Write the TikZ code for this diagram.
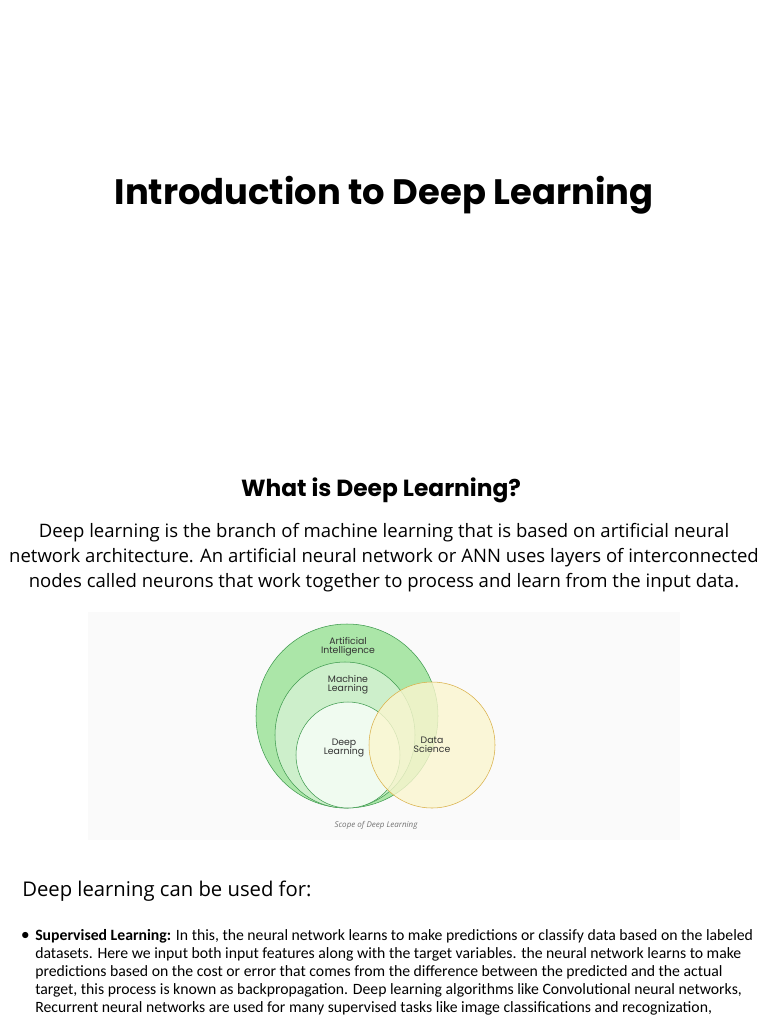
\documentclass[tikz,border=0pt]{standalone}
\usepackage{fontspec}
\setmainfont{Open Sans}
\newfontfamily\headfont{Poppins}
\newfontfamily\bulletfont{Carlito}
\usetikzlibrary{positioning}
\definecolor{aigreen}{HTML}{ABE6A8}
\definecolor{mlgreen}{HTML}{CDEFCB}
\definecolor{dlgreen}{HTML}{F0FBF0}
\definecolor{ringgreen}{HTML}{3E9A4E}
\definecolor{dsyellow}{HTML}{FBF6CF}
\definecolor{ringyellow}{HTML}{D9B048}
\definecolor{panel}{HTML}{FAFAFA}
\tikzset{
  heading/.style={font=\headfont\bfseries},
  para/.style={font=\fontsize{13.9}{17}\selectfont, inner sep=0pt},
  bul/.style={font=\bulletfont\fontsize{11.8}{13}\selectfont, anchor=west, inner sep=0pt},
  venn/.style={font=\headfont\fontsize{7}{7.5}\selectfont, text=black!80, align=center}
}
\begin{document}
\begin{tikzpicture}[x=0.75pt,y=-0.75pt]
  \useasboundingbox (0,0) rectangle (768,1024);
  \node[heading,font=\headfont\bfseries\fontsize{26.5}{30}\selectfont] (title) at (384,195) {Introduction to Deep Learning};
  \node[heading,font=\headfont\bfseries\fontsize{17.5}{20}\selectfont] (what) at (381,490) {What is Deep Learning?};
  \node[para] (p1) at (384,533) {Deep learning is the branch of machine learning that is based on artificial neural};
  \node[para] (p2) at (384,558) {network architecture. An artificial neural network or ANN uses layers of interconnected};
  \node[para] (p3) at (384,583) {nodes called neurons that work together to process and learn from the input data.};
  % venn figure
  \fill[panel] (88,612) rectangle (680,840);
  \draw[ringgreen, fill=aigreen] (347,716) ellipse [x radius=91, y radius=92];
  \draw[ringgreen, fill=mlgreen] (345,735) ellipse [x radius=70, y radius=73];
  \draw[ringgreen, fill=dlgreen] (348,755) ellipse [x radius=52, y radius=53];
  \draw[ringyellow, fill=dsyellow, fill opacity=0.8] (432,745) circle [radius=63];
  \node[venn] (ai) at (348,647) {Artificial\\[-1pt]Intelligence};
  \node[venn] (ml) at (348,685) {Machine\\[-1pt]Learning};
  \node[venn] (dl) at (344,748) {Deep\\[-1pt]Learning};
  \node[venn] (ds) at (432,745) {Data\\[-1pt]Science};
  \node[font=\fontsize{6}{7}\selectfont\itshape, text=black!55] (cap) at (376,825) {Scope of Deep Learning};
  % uses
  \node[anchor=west, inner sep=0pt, font=\fontsize{15.2}{19}\selectfont] (uses) at (22,891) {Deep learning can be used for:};
  \node[bul] (b0) at (21,936) {$\bullet$};
  \node[bul] (b1) at (35,936) {\textbf{Supervised Learning:} In this, the neural network learns to make predictions or classify data based on the labeled};
  \node[bul] (b2) at (35,954) {datasets. Here we input both input features along with the target variables. the neural network learns to make};
  \node[bul] (b3) at (35,972) {predictions based on the cost or error that comes from the difference between the predicted and the actual};
  \node[bul] (b4) at (35,990) {target, this process is known as backpropagation. Deep learning algorithms like Convolutional neural networks,};
  \node[bul] (b5) at (35,1008) {Recurrent neural networks are used for many supervised tasks like image classifications and recognization,};
\end{tikzpicture}
\end{document}
